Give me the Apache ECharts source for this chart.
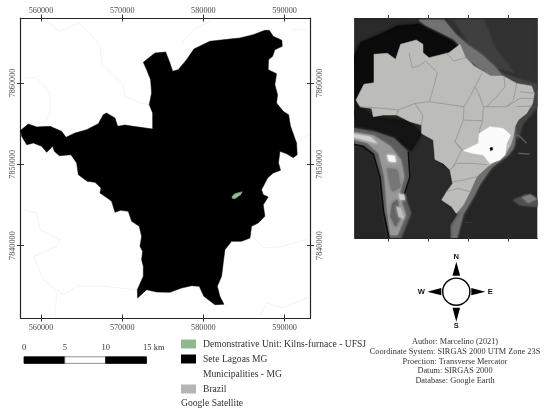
<![CDATA[<!DOCTYPE html>
<html><head><meta charset="utf-8">
<style>html,body{margin:0;padding:0;background:#fff}#c{width:550px;height:412px}</style>
<script src="https://cdn.jsdelivr.net/npm/echarts@6/dist/echarts.min.js"></script>
</head><body><div id="c"></div>
<script>
// Main map: UTM zone 23S, kilometres [easting, northing]
const seteLagoas=[[587.57,7866.48],[588.11,7866.48],[588.6,7865.74],[589.66,7865.25],[589.71,7864.51],[588.8,7864.1],[588.52,7863.28],[588.02,7862.87],[587.98,7861.64],[589.01,7861.15],[588.8,7859.8],[589.13,7858.56],[589.01,7857.54],[589.83,7856.51],[590.49,7856.1],[590.73,7854.67],[591.47,7852.62],[591.55,7851.18],[591.06,7850.82],[590.24,7851.31],[589.42,7851.59],[589.25,7850.16],[589.5,7849.26],[588.6,7848.93],[587.9,7848.31],[587.16,7846.88],[587.37,7846.26],[587.98,7845.98],[587.37,7845.03],[587.57,7843.6],[586.75,7842.78],[585.93,7842.37],[585.73,7840.93],[584.7,7840.52],[583.47,7840.52],[582.65,7839.5],[582.44,7837.86],[582.24,7836.22],[581.71,7834.99],[582.03,7833.76],[582.53,7832.78],[581.42,7832.73],[580.06,7833.76],[579.49,7834.99],[578.55,7835.07],[577.31,7834.78],[575.88,7834.25],[574.24,7834.29],[573.01,7834.58],[571.9,7833.55],[571.86,7834.58],[572.6,7836.22],[572.6,7837.45],[572.39,7838.27],[572.51,7839.29],[572.19,7839.91],[572.39,7841.14],[572.1,7842.37],[571.16,7842.98],[570.75,7844.21],[569.81,7844.34],[569.11,7844.09],[568.7,7845.44],[568.16,7845.85],[567.26,7846.47],[567.39,7847.08],[566.65,7847.78],[565.7,7847.9],[564.6,7848.72],[564.39,7850.16],[563.69,7851.18],[562.26,7851.06],[561.64,7851.59],[561.44,7852.21],[560.7,7851.47],[560.08,7852.21],[559.06,7852.62],[558.24,7852.41],[557.62,7853.44],[557.5,7854.18],[558.44,7854.96],[559.47,7854.59],[561.11,7854.67],[562.54,7854.05],[563.08,7853.32],[564.19,7853.85],[565.62,7854.26],[567.06,7855],[567.67,7856.1],[568.08,7856.31],[569.11,7855.69],[569.44,7854.67],[570.34,7854.83],[571.37,7854.67],[573.75,7854.34],[573.75,7856.31],[573.33,7857.33],[573.62,7858.77],[573.5,7860.41],[573.01,7861.64],[572.6,7862.54],[574.03,7863.69],[575.35,7863.81],[575.88,7862.46],[576.21,7861.44],[576.9,7861.64],[577.93,7862.87],[578.83,7864.18],[580.8,7865.13],[583.26,7865.41],[584.5,7865.54],[586.14,7865.95]];
const demoUnit=[[583.55,7846.06],[583.88,7846.39],[584.78,7846.63],[584.58,7846.26],[583.88,7845.77],[583.55,7845.81]];
const municipalities=[
[[560.29,7867.79],[562.34,7866.36],[564.6,7867.38],[566.03,7866.15],[567.26,7864.51],[567.47,7862.46],[570.13,7859.8],[570.34,7858.36],[572.19,7857.54],[573.42,7857.33]],
[[557.83,7860.62],[559.47,7860.62],[561.11,7858.77],[561.11,7856.31],[560.29,7854.67]],
[[557.83,7844.42],[559.47,7844.01],[559.88,7841.96],[562.34,7840.73],[561.93,7839.91],[559.06,7838.68],[560.29,7835.81],[562.75,7833.97],[564.39,7834.99],[567.67,7834.99],[571.78,7834.58]],
[[561.93,7834.17],[561.72,7831.1]],
[[577.31,7864.92],[578.75,7866.56],[581.21,7867.79]],
[[585.73,7841.55],[587.37,7839.7],[589.83,7839.91],[593.11,7840.93]],
[[586.96,7831.3],[587.78,7832.94],[589.83,7832.33],[593.11,7833.76]],
[[591.06,7866.56],[593.11,7866.56]],
[[590.03,7851.39],[593.11,7853.85]]];
// Inset: UTM zone 23S, thousands of km [easting, northing]
const brazil=[[-2.358,9.918],[-2.358,10.21],[-2.025,10.235],[-1.817,10.085],[-1.692,10.46],[-1.3,10.568],[-1.133,10.46],[-1.133,10.25],[-0.983,10.125],[-0.483,10.25],[-0.208,10.46],[-0.065,10.125],[0.143,9.918],[0.56,9.668],[0.875,9.667],[1.208,9.483],[1.583,9.417],[1.65,9.233],[1.608,8.983],[1.458,8.733],[1.25,8.567],[1.168,8.4],[1.125,8.15],[1.06,7.943],[0.918,7.693],[0.5,7.418],[0.21,7.15],[0.043,6.775],[-0.125,6.443],[-0.3,6.233],[-0.417,6.4],[-0.667,6.567],[-0.542,6.775],[-0.392,6.983],[-0.458,7.317],[-0.625,7.483],[-0.833,7.583],[-0.875,8.067],[-1.167,8.233],[-1.167,8.442],[-1.458,8.525],[-1.792,8.692],[-2.125,8.692],[-2.375,8.65],[-2.417,8.858],[-2.708,8.9],[-2.808,9.067],[-2.608,9.46],[-2.358,9.5]];
const minasGerais=[[-0.125,7.8],[0.25,7.983],[0.275,8.233],[0.542,8.4],[0.875,8.358],[1.058,8.192],[0.958,7.983],[0.918,7.692],[0.792,7.567],[0.542,7.483],[0.375,7.692],[0.125,7.733]];
const stateLines=[
[[-1.483,10.25],[-1.4,9.875],[-1.233,9.918],[-1.067,10.042]],
[[-1.067,10.042],[-0.775,9.75],[-0.858,9.418],[-0.975,9.025],[-1.333,8.983],[-1.75,8.817],[-2.125,8.858],[-2.708,8.9]],
[[-1.75,8.817],[-1.792,8.692]],
[[-1.333,8.983],[-1.142,8.692],[-1.167,8.442]],
[[-0.975,9.025],[-0.108,8.9],[-0.125,8.567],[-0.333,8.025],[-0.167,7.817],[-0.375,7.4],[-0.458,7.317]],
[[-0.567,10.25],[-0.358,10.042],[-0.065,10.125]],
[[-0.108,8.9],[0,9.067],[0.167,9.4],[0.35,9.75]],
[[0.167,9.4],[0.292,9.15],[0.375,8.9],[0.358,8.567]],
[[-0.125,8.567],[0.358,8.55],[0.292,8.358],[0.275,8.233]],
[[0.893,9.668],[0.917,9.4],[0.708,9.15],[0.458,8.9],[0.375,8.9]],
[[1.208,9.483],[1.125,9.067],[0.958,8.9],[0.458,8.9]],
[[0.958,8.9],[1.292,9.108],[1.617,9.108]],
[[1.292,9.275],[1.65,9.233]],
[[1.208,8.9],[1.608,8.917]],
[[-0.125,7.8],[-0.333,8.025]],
[[-0.458,7.317],[-0.292,7.483],[0.125,7.483],[0.458,7.45]],
[[-0.392,7.025],[-0.125,7.067],[0.208,7.15]],
[[-0.558,6.775],[-0.25,6.858],[0.043,6.775]]];
const satOcean=[[-0.542,11.1],[1.725,11.1],[1.725,9.317],[0.792,9.775],[0.125,10.317]];
const satOceanGlow=[[-0.358,11.07],[0.393,11.07],[0.643,10.418],[1.143,9.75],[0.56,9.918],[0.06,10.418]];
const satNorthWest=[[-2.842,11.1],[-1.25,11.1],[-1.042,10.858],[-1.792,10.775],[-2.375,10.483],[-2.842,9.983]];
const satAmazon=[[-2.857,10.168],[-2.69,10.5],[-2.108,10.75],[-1.775,10.918],[-1.233,10.96],[-0.775,10.793],[-0.275,10.46],[-0.2,10.1],[-0.75,10],[-1.7,10],[-2.33,9.6],[-2.6,9.2],[-2.842,9]];
const satShelfNorth=[[-1.233,11.068],[-0.608,11.068],[-0.315,10.71],[0.018,10.418],[0.35,10.185],[0.685,9.875],[0.85,9.668],[0.56,9.668],[0.143,9.96],[-0.065,10.125],[-0.208,10.418],[-0.358,10.585],[-0.775,10.793],[-1.065,10.935]];
const satShelfEast=[[0.5,9.858],[1.208,9.608],[1.725,9.45],[1.725,8.9],[1.35,8.45],[1.25,8.1],[0.8,8.5]];
const satShelfSouth=[[1.168,8.4],[1.168,8.025],[1.125,7.86],[1,7.693],[0.585,7.385],[0.293,6.968],[0.125,6.635],[-0.125,6.218],[-0.29,5.61],[-0.458,5.61],[-0.458,5.94],[-0.333,6.24],[0,7],[0.8,7.7]];
const satInterior=[[-2.842,8.817],[-2.375,8.65],[-1.167,8.442],[-0.875,8.067],[-0.833,7.583],[-0.458,7.317],[-0.392,6.983],[-0.667,6.567],[-0.275,6.233],[-0.458,5.94],[-0.458,5.61],[-1.625,5.61],[-1.542,7.167],[-2.125,8.233],[-2.842,8.65]];
const satLowland=[[-2.842,9],[-2.375,8.65],[-1.458,8.525],[-1.167,8.233],[-1.425,7.8],[-1.858,8.1],[-2.358,8.28],[-2.842,8.36]];
const satPacific=[[-2.842,7.96],[-2.625,7.9],[-2.375,7.71],[-2.208,7.13],[-2.125,6.3],[-1.983,5.61],[-2.842,5.61]];
const satAndes=[[-2.858,8.36],[-2.358,8.276],[-1.858,8.11],[-1.525,7.777],[-1.483,7.152],[-1.608,6.735],[-1.44,6.235],[-1.69,5.61],[-1.983,5.61],[-2.125,6.318],[-2.208,7.152],[-2.375,7.735],[-2.625,7.918],[-2.858,7.968]];
const satAndesHigh=[[-2.858,8.25],[-2.358,8.167],[-1.942,7.9],[-1.692,7.567],[-1.608,7.152],[-1.733,6.693],[-1.567,6.193],[-1.775,5.693],[-1.942,5.693],[-2.025,6.318],[-2.092,7.152],[-2.233,7.735],[-2.525,8],[-2.858,8.085]];
const satAltiplano=[[-2.858,8.218],[-2.442,8.135],[-2.275,7.985],[-2.692,8.1],[-2.858,8.135]];
const satSnowA=[[-2.025,7.685],[-1.842,7.668],[-1.817,7.518],[-1.983,7.543]];
const satBasinA=[[-2.025,7.36],[-1.775,7.318],[-1.692,6.9],[-1.9,6.777],[-1.983,7.068]];
const satBasinB=[[-1.9,6.484],[-1.775,6.568],[-1.692,6.15],[-1.817,5.9],[-1.942,6.15]];
const satSnowB=[[-1.733,6.717],[-1.608,6.693],[-1.592,6.568],[-1.708,6.585]];
const satSnowC=[[-1.792,6.401],[-1.692,6.36],[-1.608,6.11],[-1.733,6.15]];
const satRise=[[1.125,6.567],[1.458,6.692],[1.725,6.567],[1.725,6.4],[1.292,6.442]];
const satRiseCrest=[[1.35,6.63],[1.55,6.7],[1.7,6.6],[1.5,6.5]];
const satTrench=[[-2.858,7.96],[-2.625,7.9],[-2.375,7.71],[-2.208,7.13],[-2.125,6.3],[-1.983,5.61]];
const satForeland=[[-1.5,7.777],[-1.46,7.15],[-1.59,6.735]];
const satSeamountsA=[[1.168,8.22],[1.293,8.15],[1.46,7.985]];
const satSeamountsB=[[1.25,7.735],[1.54,7.71]];
const satellite=[[satOcean,'#323232'],[satOceanGlow,'#3f3f3f'],[satNorthWest,'#2a2a2a'],[satAmazon,'#0b0b0b'],[satShelfEast,'#444444'],[satShelfNorth,'#727272'],[satShelfSouth,'#707070'],[satInterior,'#2a2a2a'],[satLowland,'#141414'],[satPacific,'#262626'],[satAndes,'#5c5c5c'],[satAndesHigh,'#989898'],[satAltiplano,'#d0d0d0'],[satBasinA,'#777777'],[satBasinB,'#666666'],[satSnowA,'#f6f6f6'],[satSnowB,'#d0d0d0'],[satSnowC,'#c0c0c0'],[satRise,'#505050'],[satRiseCrest,'#808080']];
const satLines=[[satTrench,'#0d0d0d',1.8],[satForeland,'#0a0a0a',1.4],[satSeamountsA,'#5a5a5a',1.5],[satSeamountsB,'#5a5a5a',1.5]];
// Tick values
const eastTicks=[560000,570000,580000,590000];
const northTicks=[7840000,7850000,7860000];
const insetEastTicks=[-2000000,-1000000,0,1000000];
const insetNorthTicks=[6000000,7000000,8000000,9000000,10000000,11000000];
// Legend and notes
const legendNames=['Demonstrative Unit: Kilns-furnace - UFSJ','Sete Lagoas MG','Municipalities - MG','Brazil'];
const scaleLabels=['0','5','10','15 km'];
const scaleStops=[0,5,10,15];
const credits=['Author: Marcelino (2021)','Coordinate System: SIRGAS 2000 UTM Zone 23S','Proection: Transverse Mercator','Datum: SIRGAS 2000','Database: Google Earth'];

const SERIF='"Liberation Serif","Times New Roman",serif';
const km=p=>p.map(q=>[q[0]*1000,q[1]*1000]);
const mm=p=>p.map(q=>[q[0]*1e6,q[1]*1e6]);

function axisPair(pos,grid,min,max,ticks,labels,rot,margin){
  const base={type:'value',gridIndex:grid,position:pos,min,max,splitLine:{show:false}};
  const line={show:true,lineStyle:{color:'#262626',width:1.2}};
  return [
   Object.assign({},base,{axisLine:line,
     axisTick:{show:true,length:3.5,inside:false,customValues:ticks,lineStyle:{color:'#333',width:1}},
     axisLabel:labels?{show:true,customValues:ticks,rotate:rot,margin,fontFamily:SERIF,fontSize:8.2,color:'#4a4a4a',formatter:v=>String(v)}:{show:false}}),
   Object.assign({},base,{axisLine:{show:false},
     axisTick:{show:true,length:3.5,inside:true,customValues:ticks,lineStyle:{color:'#333',width:1}},
     axisLabel:{show:false}})
  ];
}
const E0=557475,E1=593190,N0=7831095,N1=7867995;
const IE0=-2840000,IE1=1725000,IN0=5617500,IN1=11105000;
const xAxis=[...axisPair('top',0,E0,E1,eastTicks,true,0,3.5),...axisPair('bottom',0,E0,E1,eastTicks,true,0,6),
             ...axisPair('top',1,IE0,IE1,insetEastTicks,false),...axisPair('bottom',1,IE0,IE1,insetEastTicks,false)];
const yAxis=[...axisPair('left',0,N0,N1,northTicks,true,90,3.8),...axisPair('right',0,N0,N1,northTicks,true,90,5.5),
             ...axisPair('left',1,IN0,IN1,insetNorthTicks,false),...axisPair('right',1,IN0,IN1,insetNorthTicks,false)];

function shapes(name,grid,items,color,extra){
  const ax=grid===0?0:4;
  return Object.assign({type:'custom',name,xAxisIndex:ax,yAxisIndex:ax,coordinateSystem:'cartesian2d',clip:true,silent:true,
    itemStyle:{color},data:items.map(it=>it.pts[0]),
    renderItem:(p,api)=>{const it=items[p.dataIndex];
      const pts=it.pts.map(q=>api.coord(q));
      return it.line?{type:'polyline',shape:{points:pts},style:{fill:null,stroke:it.stroke,lineWidth:it.width}}
                    :{type:'polygon',shape:{points:pts},style:Object.assign({fill:it.fill,stroke:it.stroke||it.fill,lineWidth:it.width||0.5},
                        it.soft?{shadowBlur:it.soft,shadowColor:it.fill}:{})};}
  },extra||{});
}
const poly=(pts,fill,stroke,width)=>({pts,fill,stroke,width});
const softPoly=(pts,fill)=>({pts,fill,soft:3});
const polyline=(pts,stroke,width)=>({pts,line:true,stroke,width});

const series=[
 shapes(legendNames[2],0,municipalities.map(l=>polyline(km(l),'#f3f3f3',1)),'#ffffff',{z:2}),
 shapes(legendNames[1],0,[poly(km(seteLagoas),'#000000')],'#000000',{z:3}),
 shapes(legendNames[0],0,[poly(km(demoUnit),'#8fbc8f')],'#8fb98f',{z:4}),
 shapes('satellite',1,satellite.map(s=>softPoly(mm(s[0]),s[1])).concat(satLines.map(s=>polyline(mm(s[0]),s[1],s[2]))),'#262626',{z:2}),
 shapes(legendNames[3],1,[poly(mm(brazil),'#bcbcb9','#bcbcb9',0.5)].concat(stateLines.map(l=>polyline(mm(l),'#8c8c8c',0.7))),'#b5b5b5',{z:3}),
 shapes('Minas Gerais',1,[poly(mm(minasGerais),'#fbfbfb'),poly(km(seteLagoas),'#000000','#000000',1.8)],'#fbfbfb',{z:4})
];

const black='#000';
const SX=24, SU=(146.5-24)/15, SY=356.8, SH=6.6;
const scale=[];
for(let i=0;i<3;i++){
  scale.push({type:'rect',shape:{x:SX+scaleStops[i]*SU,y:SY,width:5*SU,height:SH},
    style:{fill:i===1?'#fff':black,stroke:i===1?'#777':black,lineWidth:0.8}});
}
scaleLabels.forEach((t,i)=>scale.push({type:'text',x:SX+scaleStops[i]*SU+(i===3?-3.5:0),y:348,
  style:{text:t,font:'8.5px '+SERIF,fill:'#333',align:i===3?'left':'center',verticalAlign:'middle'}}));

const CX=456.3,CY=291.7;
const tri=(pts)=>({type:'polygon',shape:{points:pts.map(p=>[CX+p[0],CY+p[1]])},style:{fill:black}});
const letter=(t,dx,dy)=>({type:'text',x:CX+dx,y:CY+dy,style:{text:t,font:'bold 7.6px "Liberation Sans",sans-serif',fill:'#111',align:'center',verticalAlign:'middle'}});
const compass=[
 tri([[0,-30],[-3.8,-16],[3.8,-16]]),tri([[0,30],[-3.8,16],[3.8,16]]),
 tri([[-29,0],[-15,-3.6],[-15,3.6]]),tri([[29,0],[15,-3.6],[15,3.6]]),
 {type:'circle',shape:{cx:CX,cy:CY,r:13.6},style:{fill:'#fff',stroke:black,lineWidth:1.4}},
 letter('N',0,-34.7),letter('S',0,34.6),letter('W',-35,0),letter('E',34,0)
];
const notes=credits.map((t,i)=>({type:'text',x:455,y:341.7+i*9.85,
  style:{text:t,font:'8.3px '+SERIF,fill:'#333',align:'center',verticalAlign:'middle'}}));
const sat={type:'text',x:181,y:403,style:{text:'Google Satellite',font:'9.6px '+SERIF,fill:'#333',verticalAlign:'middle'}};

const chart=echarts.init(document.getElementById('c'),null,{renderer:'canvas'});
chart.setOption({
  animation:false,backgroundColor:'#fff',
  grid:[{left:20.5,top:18,width:290,height:300,show:false},
        {left:354.7,top:18.5,width:182.6,height:219.5,show:true,backgroundColor:'#262626',borderWidth:0}],
  xAxis,yAxis,series,
  legend:{show:true,orient:'vertical',left:181,top:339,itemWidth:15,itemHeight:9,itemGap:5,itemStyle:{borderWidth:0},
    icon:'rect',selectedMode:false,padding:0,
    textStyle:{fontFamily:SERIF,fontSize:9.6,color:'#333',padding:[0,0,0,2]},
    data:legendNames},
  graphic:[...scale,...compass,...notes,sat]
});
</script></body></html>]]>
